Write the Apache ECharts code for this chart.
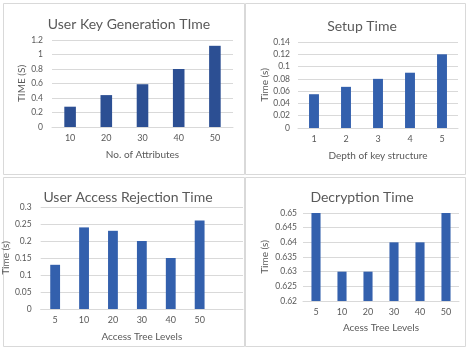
<!DOCTYPE html>
<html><head><meta charset="utf-8">
<script src="https://cdn.jsdelivr.net/npm/echarts@6/dist/echarts.min.js"></script>
<style>html,body{margin:0;padding:0;background:#fff}#c{width:474px;height:358px}</style>
</head><body><div id="c"></div>
<script>
// Chart 1: User Key Generation Time
const keyGenCats = ['10','20','30','40','50'];
const keyGenVals = [0.28, 0.44, 0.59, 0.80, 1.12];
// Chart 2: Setup Time
const setupCats = ['1','2','3','4','5'];
const setupVals = [0.055, 0.067, 0.08, 0.09, 0.12];
// Chart 3: User Access Rejection Time (last category empty in the source)
const rejectCats = ['5','10','20','30','40','50',''];
const rejectVals = [0.13, 0.24, 0.23, 0.20, 0.15, 0.26, null];
// Chart 4: Decryption Time
const decCats = ['5','10','20','30','40','50'];
const decVals = [0.65, 0.63, 0.63, 0.64, 0.64, 0.65];

const FONT = 'Lato, "Open Sans", sans-serif';
const TXT = '#595959';
const GRID = '#d9d9d9';

const chart = echarts.init(document.getElementById('c'), null, {renderer:'canvas'});

const grids = [
  {left:52, right:241, top:40, bottom:231},
  {left:298, right:16, top:42, bottom:230},
  {left:40, right:231, top:207, bottom:49},
  {left:303, right:15, top:213, bottom:57}
];
const titles = [
  {text:'User Key Generation TIme', left:124, top:19},
  {text:'Setup Time', left:357, top:21},
  {text:'User Access Rejection Time', left:123, top:192},
  {text:'Decryption Time', left:357, top:192}
];
const xNames = ['No. of Attributes','Depth of key structure','Access Tree Levels','Acess Tree Levels'];
const yNames = ['TIME (S)','Time (s)','Time (s)','Time (s)'];
const cats = [keyGenCats, setupCats, rejectCats, decCats];
const vals = [keyGenVals, setupVals, rejectVals, decVals];
const yCfg = [
  {min:0, max:1.2, interval:0.2, nameGap:23, margin:9},
  {min:0, max:0.14, interval:0.02, nameGap:28, margin:8},
  {min:0, max:0.3, interval:0.05, nameGap:21, margin:9},
  {min:0.62, max:0.65, interval:0.005, nameGap:33, margin:6}
];
const barW = ['32%','31%','34%','35%'];
const colors = ['#2c4f93','#3360ad','#3360ad','#3360ad'];
const xNameGap = [23,23,23,22];

const option = {
  backgroundColor:'#fff',
  animation:false,
  title: titles.map(t => ({text:t.text, left:t.left, top:t.top, textAlign:'center', textVerticalAlign:'middle',
    textStyle:{fontFamily:FONT, fontSize:14, fontWeight:'normal', color:TXT}})),
  grid: grids,
  xAxis: cats.map((c,i) => ({type:'category', gridIndex:i, data:c,
    name:xNames[i], nameLocation:'middle', nameGap:xNameGap[i],
    nameTextStyle:{fontFamily:FONT, fontSize:10, color:TXT},
    axisLine:{lineStyle:{color:GRID}}, axisTick:{show:false},
    axisLabel:{fontFamily:FONT, fontSize:9, color:TXT, margin:7}})),
  yAxis: yCfg.map((y,i) => ({type:'value', gridIndex:i, min:y.min, max:y.max, interval:y.interval,
    name:yNames[i], nameLocation:'middle', nameRotate:90, nameGap:y.nameGap,
    nameTextStyle:{fontFamily:FONT, fontSize:10, color:TXT},
    axisLine:{show:false}, axisTick:{show:false},
    splitLine:{lineStyle:{color:GRID}},
    axisLabel:{fontFamily:FONT, fontSize:8.5, color:TXT, margin:y.margin}})),
  series: vals.map((v,i) => ({type:'bar', xAxisIndex:i, yAxisIndex:i, data:v, barWidth:barW[i],
    itemStyle:{color:colors[i]}})),
  graphic: [
    {type:'rect', shape:{x:3.5,y:3.5,width:241,height:171}, style:{fill:'none', stroke:'#d9d9d9', lineWidth:1}, z:-1},
    {type:'rect', shape:{x:245.5,y:3.5,width:220,height:171}, style:{fill:'none', stroke:'#d9d9d9', lineWidth:1}, z:-1},
    {type:'rect', shape:{x:3.5,y:177.5,width:241,height:169}, style:{fill:'none', stroke:'#d9d9d9', lineWidth:1}, z:-1},
    {type:'rect', shape:{x:245.5,y:177.5,width:220,height:169}, style:{fill:'none', stroke:'#d9d9d9', lineWidth:1}, z:-1}
  ]
};
chart.setOption(option);
</script></body></html>
